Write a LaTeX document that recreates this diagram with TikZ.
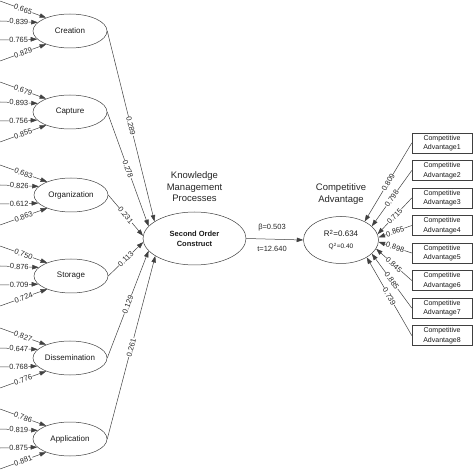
\documentclass[tikz,border=0pt]{standalone}
\usepackage{fontspec}
\setmainfont{Liberation Sans}
\usetikzlibrary{arrows.meta,shapes.geometric}
\tikzset{
  lv/.style={ellipse, draw=black!75, line width=0.5pt, inner sep=0pt, align=center, text=black!90},
  fo/.style={lv, minimum width=74pt, minimum height=34pt, font=\fontsize{8}{9.5}\selectfont},
  arr/.style={draw=black!75, line width=0.5pt, -{Triangle[length=6.5pt,width=4.5pt]}},
  lbl/.style={sloped, fill=white, inner sep=0.4pt, font=\fontsize{7.5}{8}\selectfont, text=black!85},
  boxnode/.style={rectangle, draw=black!75, line width=0.5pt, minimum width=60pt, minimum height=20pt, inner sep=0pt, align=center, font=\fontsize{7}{9.5}\selectfont, text=black!90},
  heading/.style={align=center, font=\fontsize{9.5}{11.5}\selectfont, text=black!85, inner sep=0pt},
  small/.style={font=\fontsize{7.5}{9}\selectfont, text=black!85, inner sep=0pt}
}
\begin{document}
\begin{tikzpicture}[x=1pt,y=-1pt]
\path[use as bounding box] (0,0) rectangle (474,470);

% first order constructs
\node[fo] (creation) at (70,31) {Creation};
\node[fo] (capture) at (70,112) {Capture};
\node[fo] (organization) at (71,195) {Organization};
\node[fo] (storage) at (71,276) {Storage};
\node[fo] (dissemination) at (70,358) {Dissemination};
\node[fo] (application) at (70,439) {Application};

% indicator arrows
\foreach \n/\c/\a/\b/\d/\e in {
  creation/31/0.665/0.839/0.765/0.829,
  capture/112/0.679/0.893/0.756/0.855,
  organization/195/0.683/0.826/0.612/0.863,
  storage/276/0.750/0.876/0.709/0.724,
  dissemination/358/0.827/0.647/0.768/0.776,
  application/439/0.786/0.819/0.875/0.881}{
  \coordinate (\n-i1) at (0,\c-30);
  \coordinate (\n-i2) at (0,\c-10);
  \coordinate (\n-i3) at (0,\c+9);
  \coordinate (\n-i4) at (0,\c+30);
  \draw[arr] (\n-i1) -- node[lbl]{\a} (\n.151);
  \draw[arr] (\n-i2) -- node[lbl]{\b} (\n.165);
  \draw[arr] (\n-i3) -- node[lbl]{\d} (\n.194);
  \draw[arr] (\n-i4) -- node[lbl]{\e} (\n.209);
}

% second order construct
\node[lv, minimum width=103pt, minimum height=53pt, font=\fontsize{7.5}{10}\selectfont\bfseries] (so) at (194.5,238.5) {Second Order\\Construct};
\node[heading] (kmp) at (194.5,187) {Knowledge\\Management\\Processes};

\draw[arr] (creation.east) -- node[lbl]{0.289} (so.157);
\draw[arr] (capture.east) -- node[lbl]{0.278} (so.165);
\draw[arr] (organization.east) -- node[lbl]{0.231} (so.177);
\draw[arr] (storage.east) -- node[lbl]{0.113} (so.184);
\draw[arr] (dissemination.east) -- node[lbl]{0.129} (so.195);
\draw[arr] (application.east) -- node[lbl]{0.261} (so.204);

% competitive advantage
\node[lv, minimum width=75pt, minimum height=47pt] (ca) at (341,240) {{\fontsize{8}{10}\selectfont R\textsuperscript{2}=0.634}\\{\fontsize{6.5}{8}\selectfont Q\textsuperscript{2}=0.40}};
\node[heading] (catitle) at (341,194) {Competitive\\Advantage};

\draw[arr] (so.east) -- (ca.west);
\node[small] (beta) at (272,228) {β=0.503};
\node[small] (tval) at (272,249) {t=12.640};

% indicator boxes
\foreach \i/\y/\v/\ang in {1/143/0.809/38, 2/170.5/0.798/24, 3/198/0.715/9, 4/225.5/0.865/4, 5/253/0.898/-3, 6/280.5/0.845/-14, 7/308/0.885/-24, 8/335.5/0.739/-34}{
  \node[boxnode] (cab\i) at (442,\y) {Competitive\\Advantage\i};
  \draw[arr] (cab\i.west) -- node[lbl]{\v} (ca.\ang);
}
\end{tikzpicture}
\end{document}
